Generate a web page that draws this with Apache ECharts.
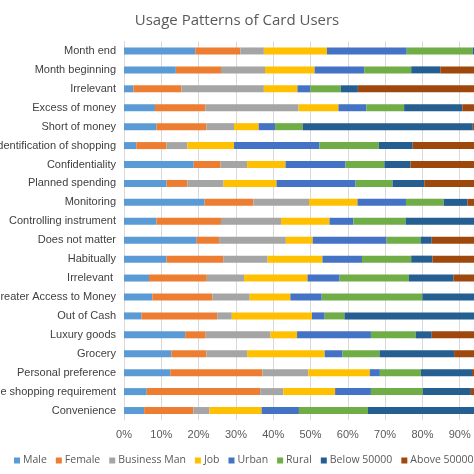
<!DOCTYPE html><html><head><meta charset="utf-8"><script src="https://cdn.jsdelivr.net/npm/echarts@6/dist/echarts.min.js"></script></head><body style="margin:0;overflow:hidden"><div id="c" style="width:474px;height:474px"></div><script>
const categories=["Month end","Month beginning","Irrelevant","Excess of money","Short of money","Identification of shopping","Confidentiality","Planned spending","Monitoring","Controlling instrument","Does not matter","Habitually","Irrelevant ","Greater Access to Money","Out of Cash","Luxury goods","Grocery","Personal preference","Online shopping requirement","Convenience"];
const male=[19.1,13.9,2.5,8.3,8.7,3.3,18.7,11.4,21.6,8.7,19.5,11.4,6.7,7.6,4.7,16.4,12.7,12.4,6.1,5.4];
const female=[12.1,12.1,12.9,13.5,13.4,8.1,7.2,5.6,13.1,17.3,6,15.2,15.5,16.1,20.3,5.5,9.4,24.7,30.4,13.2];
const businessMan=[6.3,11.8,22.1,25,7.4,5.6,7.1,9.7,14.9,16.1,17.9,11.9,10,10,3.9,17.4,10.9,12.3,6.2,4.3];
const job=[16.9,13.3,9,10.7,6.6,12.5,10.3,14.2,13,13,7.2,14.7,17,10.9,21.5,7.1,20.8,16.5,13.9,14];
const urban=[21.4,13.3,3.5,7.5,4.4,22.9,16.1,21.2,13,6.4,19.8,10.6,8.6,8.4,3.4,19.8,4.8,2.7,9.6,10];
const rural=[17.7,12.6,8.1,10.1,7.4,15.9,10.4,9.9,10.1,14,9.1,13.2,18.6,27,5.3,12,9.9,11,13.9,18.5];
const below50000=[1.0,7.8,4.6,15.6,45.6,9.1,7,8.5,6.4,18.9,3,5.7,11.9,15.1,40,4.3,20,13.7,12.9,29.4];
const above50000=[5.5,15.2,37.3,9.3,6.5,22.6,23.2,19.5,7.9,5.6,17.5,17.3,11.7,4.9,0.9,17.5,11.5,6.7,7,5.2];
const names=["Male","Female","Business Man","Job","Urban","Rural","Below 50000","Above 50000"];
const colors=["#5B9BD5","#ED7D31","#A5A5A5","#FFC000","#4472C4","#70AD47","#255E91","#9E480E"];
const vals=[male,female,businessMan,job,urban,rural,below50000,above50000];
const ch=echarts.init(document.getElementById('c'));
ch.setOption({animation:false,
title:{text:"Usage Patterns of Card Users",left:'center',top:8,textStyle:{fontSize:15,fontWeight:'normal',color:'#595959',fontFamily:'Open Sans'}},
legend:{bottom:8,left:14,itemWidth:6,itemHeight:6,itemGap:9,padding:0,textStyle:{fontSize:10.5,color:'#595959',fontFamily:'Open Sans',padding:[0,0,0,-2]},data:names.map(n=>({name:n,icon:'rect'}))},
grid:{left:124,width:373,top:41.5,height:378.5,outerBoundsMode:'none',containLabel:false},
xAxis:{type:'value',min:0,max:100,interval:10,axisLabel:{formatter:'{value}%',fontSize:11,color:'#595959',margin:9},splitLine:{lineStyle:{color:'#d9d9d9'}},axisLine:{show:false},axisTick:{show:false}},
yAxis:{type:'category',inverse:true,data:categories,axisLabel:{fontSize:11,color:'#404040',margin:8},axisTick:{show:false},axisLine:{lineStyle:{color:'#d9d9d9'}}},
series:vals.map((v,i)=>({name:names[i],type:'bar',stack:'s',barWidth:7,data:v,itemStyle:{color:colors[i]}}))});
</script></body></html>
